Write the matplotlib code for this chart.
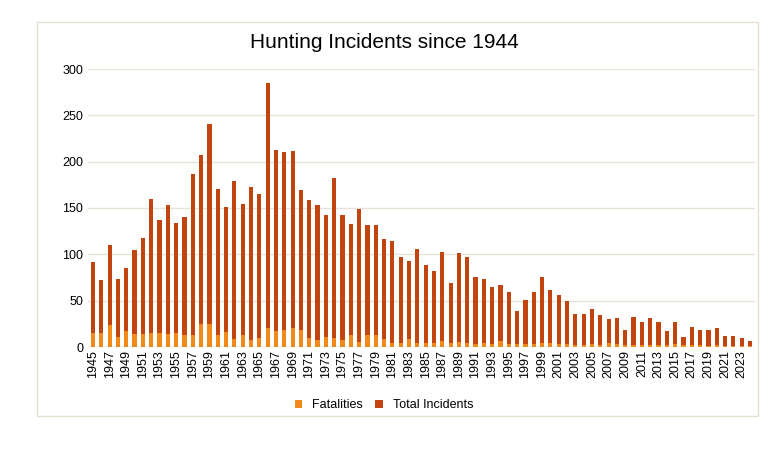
import numpy as np
import matplotlib.pyplot as plt
from matplotlib.patches import Rectangle

plt.rcParams['font.family'] = ['Liberation Sans', 'DejaVu Sans']

years = list(range(1945, 2025))
total = [92, 72, 110, 73, 85, 105, 118, 160, 137, 153, 134, 140, 187, 207, 241, 170,
         151, 179, 154, 173, 165, 285, 213, 210, 211, 169, 159, 153, 142, 182, 142, 133,
         149, 132, 132, 117, 114, 97, 93, 106, 89, 82, 102, 69, 101, 97, 76, 73, 65, 67,
         59, 39, 51, 59, 76, 62, 56, 50, 36, 36, 41, 34, 30, 31, 18, 32, 27, 31, 27, 17,
         27, 11, 22, 18, 18, 21, 12, 12, 10, 7]
fatal = [15, 15, 24, 11, 17, 14, 14, 15, 15, 14, 15, 13, 13, 25, 25, 13,
         16, 9, 13, 8, 10, 20, 17, 18, 20, 18, 10, 8, 11, 10, 8, 13,
         5, 13, 13, 9, 4, 4, 9, 4, 4, 4, 7, 4, 5, 4, 3, 4, 3, 6,
         3, 3, 3, 3, 4, 4, 3, 3, 2, 2, 3, 2, 4, 3, 2, 2, 2, 2, 2, 2,
         3, 2, 2, 2, 1, 2, 1, 1, 1, 1]

fig = plt.figure(figsize=(7.68, 4.61), dpi=100)
fig.patches.append(Rectangle((37 / 768, 1 - 416 / 461), 721 / 768, 394 / 461,
                             transform=fig.transFigure, fill=False,
                             edgecolor='#e6e0d4', lw=1))
ax = fig.add_axes([88 / 768, 1 - 347 / 461, 667 / 768, 278 / 461])

x = np.arange(len(years))
ax.bar(x, total, width=0.5, color='#c2440f', label='Total Incidents', zorder=2)
ax.bar(x, fatal, width=0.5, color='#f08a1c', label='Fatalities', zorder=3)

ax.set_xlim(-0.6, len(years) - 0.4)
ax.set_ylim(0, 300)
ax.set_yticks(range(0, 301, 50))
ax.set_xticks(x[::2])
ax.set_xticklabels([str(y) for y in years[::2]], rotation=90, fontsize=9)
ax.tick_params(axis='y', labelsize=9, length=0)
ax.tick_params(axis='x', length=0, pad=2)
ax.grid(axis='y', color='#e8e2d8', lw=1, zorder=0)
for s in ax.spines.values():
    s.set_visible(False)

fig.text(0.5, 1 - 42 / 461, 'Hunting Incidents since 1944', ha='center', va='center', fontsize=15)
h, l = ax.get_legend_handles_labels()
fig.legend(h[::-1], l[::-1], loc='center', bbox_to_anchor=(0.5, 1 - 405 / 461), ncol=2,
           frameon=False, fontsize=9, handlelength=0.6, handleheight=0.6, columnspacing=1)
fig.savefig('out.png', dpi=100)
